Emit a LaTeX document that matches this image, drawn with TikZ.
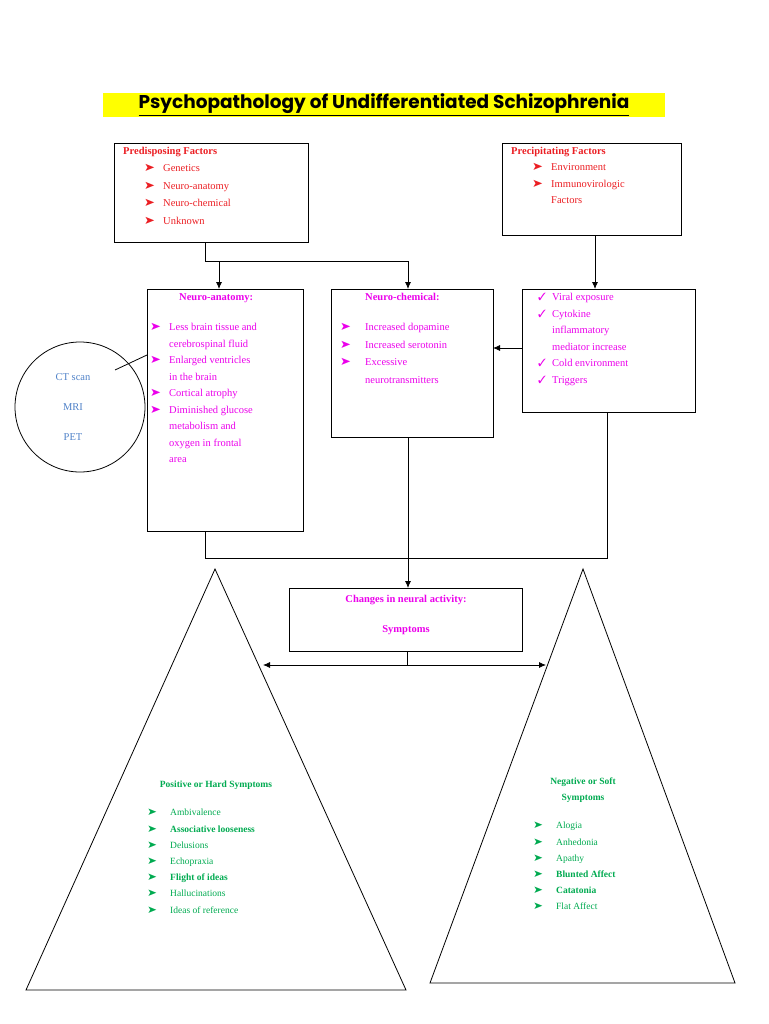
\documentclass[tikz,border=0pt]{standalone}
\usetikzlibrary{arrows.meta}
\usepackage{fontspec}
\usepackage{pifont}
\setmainfont{Liberation Serif}
\newfontfamily\titlefont{Poppins}
\definecolor{cred}{RGB}{235,30,35}
\definecolor{cmag}{RGB}{235,0,235}
\definecolor{cgrn}{RGB}{0,170,80}
\definecolor{cblu}{RGB}{80,130,200}
\definecolor{hl}{RGB}{255,255,0}
\newcommand{\ar}{\makebox[18pt][l]{\ding{228}}}
\newcommand{\ck}{\makebox[14pt][l]{\ding{51}}}
\begin{document}
\begin{tikzpicture}[x=1pt,y=-1pt,
 box/.style={draw,line width=0.8pt},
 con/.style={line width=0.8pt},
 arr/.style={line width=0.8pt,-{Latex[length=7pt,width=6pt]}},
 txt/.style={anchor=north west,align=left,inner sep=0pt,font=\fontsize{10.5}{16.5}\selectfont}]
\useasboundingbox (0,0) rectangle (768,1024);
% title
\fill[hl] (103,93) rectangle (665,117);
\node[inner sep=0pt] (title) at (384,105) {\titlefont\bfseries\fontsize{18.5}{20}\selectfont\underline{Psychopathology of Undifferentiated Schizophrenia}};
% boxes
\draw[box] (114,143) rectangle (308,242); \coordinate (pd) at (205,242);
\draw[box] (502,143) rectangle (681,235); \coordinate (pc) at (595,235);
\draw[box] (147,289) rectangle (303,531);
\draw[box] (331,289) rectangle (493,437);
\draw[box] (522,289) rectangle (695,412);
\draw[box] (289,588) rectangle (522,651);
\draw[line width=0.8pt] (80,407) circle (65);
% texts
\node[txt,text=cred,font=\fontsize{10.5}{17.5}\selectfont] (t1) at (123,147) {\bfseries Predisposing Factors\\
\hspace{22pt}\ar Genetics\\
\hspace{22pt}\ar Neuro-anatomy\\
\hspace{22pt}\ar Neuro-chemical\\
\hspace{22pt}\ar Unknown};
\node[txt,text=cred,font=\fontsize{10.5}{16.5}\selectfont] (t2) at (511,147) {\bfseries Precipitating Factors\\
\hspace{22pt}\ar Environment\\
\hspace{22pt}\ar Immunovirologic\\
\hspace{40pt}Factors};
\node[txt,text=cmag,font=\bfseries\fontsize{10.5}{12}\selectfont] (t3h) at (179,293) {Neuro-anatomy:};
\node[txt,text=cmag] (t3) at (151,323) {\ar Less brain tissue and\\
\hspace{18pt}cerebrospinal fluid\\
\ar Enlarged ventricles\\
\hspace{18pt}in the brain\\
\ar Cortical atrophy\\
\ar Diminished glucose\\
\hspace{18pt}metabolism and\\
\hspace{18pt}oxygen in frontal\\
\hspace{18pt}area};
\node[txt,text=cmag,font=\bfseries\fontsize{10.5}{12}\selectfont] (t4h) at (365,293) {Neuro-chemical:};
\node[txt,text=cmag,font=\fontsize{10.5}{17.5}\selectfont] (t4) at (341,323) {\makebox[24pt][l]{\ding{228}}Increased dopamine\\
\makebox[24pt][l]{\ding{228}}Increased serotonin\\
\makebox[24pt][l]{\ding{228}}Excessive\\
\hspace{24pt}neurotransmitters};
\node[txt,text=cmag] (t5) at (538,293) {\ck Viral exposure\\
\ck Cytokine\\
\hspace{14pt}inflammatory\\
\hspace{14pt}mediator increase\\
\ck Cold environment\\
\ck Triggers};
\node[txt,text=cblu,align=center,anchor=center,font=\fontsize{10.5}{30}\selectfont] (t6) at (73,407) {CT scan\\MRI\\PET};
\node[text=cmag,font=\bfseries\fontsize{10.5}{12}\selectfont,inner sep=0pt] (t7) at (406,600) {Changes in neural activity:};
\node[text=cmag,font=\bfseries\fontsize{10.5}{12}\selectfont,inner sep=0pt] (t8) at (406,630) {Symptoms};
% connectors
\draw[con] (pd) -- (205,261) -- (408,261);
\draw[arr] (219,261) -- (219,289);
\draw[arr] (408,261) -- (408,289);
\draw[arr] (pc) -- (595,289);
\draw[arr] (522,348) -- (493,348);
\draw[con] (115,370) -- (147,355);
\draw[con] (205,531) -- (205,558) -- (607,558) -- (607,412);
\draw[arr] (408,437) -- (408,588);
\draw[con] (407,651) -- (407,665);
\draw[line width=0.8pt,{Latex[length=7pt,width=6pt]}-{Latex[length=7pt,width=6pt]}] (263,665) -- (546,665);
% triangles
\draw[line width=0.8pt] (215,569) -- (26,990) -- (406,990) -- cycle;
\draw[line width=0.8pt] (583,569) -- (430,983) -- (735,983) -- cycle;
\node[text=cgrn,font=\bfseries\fontsize{9.5}{12}\selectfont,inner sep=0pt] (t9) at (216,785) {Positive or Hard Symptoms};
\node[txt,text=cgrn,font=\fontsize{9.5}{16.2}\selectfont] (t10) at (148,809) {\makebox[22pt][l]{\ding{228}}Ambivalence\\
\makebox[22pt][l]{\ding{228}}\textbf{Associative looseness}\\
\makebox[22pt][l]{\ding{228}}Delusions\\
\makebox[22pt][l]{\ding{228}}Echopraxia\\
\makebox[22pt][l]{\ding{228}}\textbf{Flight of ideas}\\
\makebox[22pt][l]{\ding{228}}Hallucinations\\
\makebox[22pt][l]{\ding{228}}Ideas of reference};
\node[text=cgrn,font=\bfseries\fontsize{9.5}{16}\selectfont,align=center,inner sep=0pt] (t11) at (583,790) {Negative or Soft\\Symptoms};
\node[txt,text=cgrn,font=\fontsize{9.5}{16.2}\selectfont] (t12) at (534,822) {\makebox[22pt][l]{\ding{228}}Alogia\\
\makebox[22pt][l]{\ding{228}}Anhedonia\\
\makebox[22pt][l]{\ding{228}}Apathy\\
\makebox[22pt][l]{\ding{228}}\textbf{Blunted Affect}\\
\makebox[22pt][l]{\ding{228}}\textbf{Catatonia}\\
\makebox[22pt][l]{\ding{228}}Flat Affect};
\end{tikzpicture}
\end{document}
